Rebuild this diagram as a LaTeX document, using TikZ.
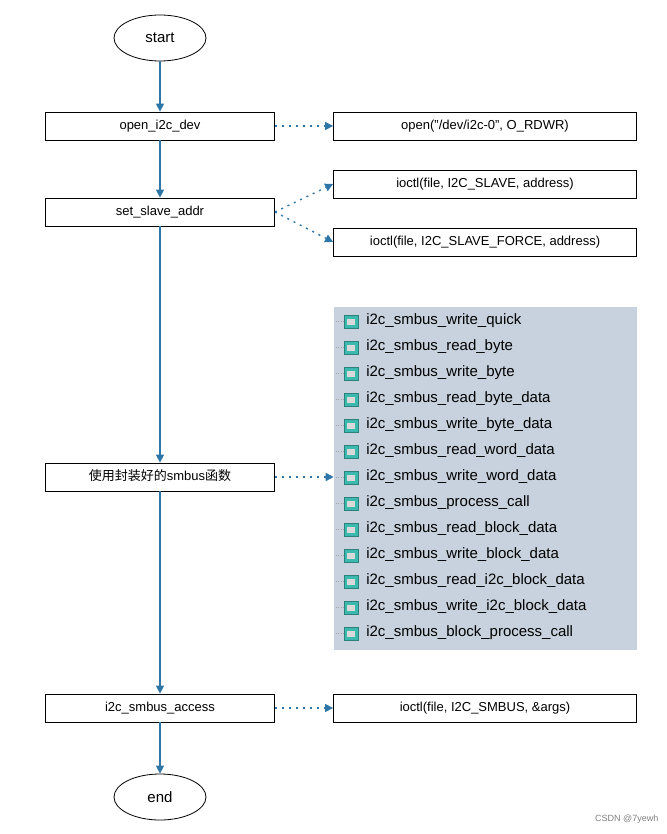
\documentclass[tikz,border=0pt]{standalone}
\usepackage{fontspec}
\setmainfont{Liberation Sans}
\newfontfamily\cjk{Noto Sans CJK SC}
\usetikzlibrary{arrows.meta,shapes.geometric,positioning}
\definecolor{flowblue}{RGB}{46,117,168}
\definecolor{panelgray}{RGB}{200,210,222}
\definecolor{icongreen}{RGB}{60,185,175}
\begin{document}
\begin{tikzpicture}[x=1pt,y=-1pt,>={Triangle[length=8pt,width=8pt]}
  ,font=\fontsize{13}{15}\selectfont,
  semithick]
  \tikzstyle{box}=[draw,thick,minimum width=229pt,minimum height=28pt,inner sep=0pt,
    text height=9.5pt,text depth=3pt]
  \tikzstyle{call}=[box,minimum width=303pt]
  \tikzstyle{term}=[draw,thick,ellipse,minimum width=92pt,minimum height=46pt,font=\fontsize{15}{17}\selectfont]
  \tikzstyle{flow}=[->,flowblue,line width=1.4pt]
  \tikzstyle{link}=[->,flowblue,line width=1.4pt,dash pattern=on 2pt off 5pt]
  \tikzstyle{item}=[anchor=west,inner sep=0pt,font=\fontsize{15}{17}\selectfont]

  \useasboundingbox (0,0) rectangle (666,834);

  % main column
  \node[term](start) at (160,38) {start};
  \node[box](open)  at (160,126) {open\_i2c\_dev};
  \node[box](slave) at (160,212) {set\_slave\_addr};
  \node[box](smbus) at (160,477) {{\cjk 使用封装好的}smbus{\cjk 函数}};
  \node[box](access) at (160,708) {i2c\_smbus\_access};
  \node[term](end) at (160,797) {end};

  % right column
  \node[call](openc)  at (485,126) {open("/dev/i2c-0", O\_RDWR)};
  \node[call](slavec) at (485,184) {ioctl(file, I2C\_SLAVE, address)};
  \node[call](forcec) at (485,242) {ioctl(file, I2C\_SLAVE\_FORCE, address)};
  \node[call](accessc) at (485,708) {ioctl(file, I2C\_SMBUS, \&args)};

  % function list
  \node[fill=panelgray,minimum width=303pt,minimum height=343pt,inner sep=0pt]
    (panel) at (485.5,478.5) {};
  \foreach \name [count=\i from 0] in {write\_quick,read\_byte,write\_byte,
      read\_byte\_data,write\_byte\_data,read\_word\_data,write\_word\_data,
      process\_call,read\_block\_data,write\_block\_data,read\_i2c\_block\_data,
      write\_i2c\_block\_data,block\_process\_call} {
    \draw[gray!70,thin,dotted] (336,321+26*\i) -- (344,321+26*\i);
    \draw[icongreen!70!black,fill=icongreen,thin]
      (344,315+26*\i) rectangle (358,328+26*\i);
    \fill[white!70!gray] (347,319+26*\i) rectangle (355,325+26*\i);
    \node[item](f\i) at (366,321+26*\i) {i2c\_smbus\_\name};
  }

  \path
  (start) edge[flow] (open)
  (open)  edge[flow] (slave)
  (slave) edge[flow] (smbus)
  (smbus) edge[flow] (access)
  (access) edge[flow] (end)
  ;
  \path
  (open.east)  edge[link] (openc.west)
  (slave.east) edge[link] (slavec.west)
  (slave.east) edge[link] (forcec.west)
  (smbus.east) edge[link] (panel.west |- smbus.east)
  (access.east) edge[link] (accessc.west)
  ;

  \node[gray,font=\fontsize{9}{10}\selectfont,anchor=east](mark) at (662,819) {CSDN @7yewh};
\end{tikzpicture}
\end{document}
